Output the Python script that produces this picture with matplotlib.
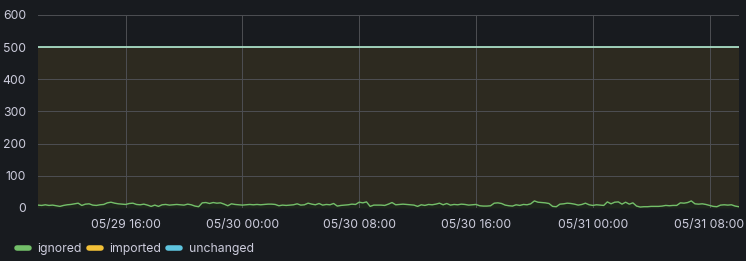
import matplotlib
matplotlib.use("Agg")
import matplotlib.pyplot as plt
import matplotlib.dates as mdates
from matplotlib.lines import Line2D
import pandas as pd
import numpy as np

# ---- data ----
start_time = "2024-05-29 10:00"
step = "15min"
ignored = [9, 8, 10, 8, 9, 7, 5, 8, 10, 11, 13, 15, 8, 12, 13, 9, 8, 10, 11, 16,
           18, 15, 13, 12, 11, 14, 15, 11, 10, 12, 9, 5, 9, 5, 10, 11, 9, 10, 11, 10,
           9, 12, 10, 6, 4, 16, 17, 14, 17, 15, 16, 12, 7, 13, 11, 10, 9, 10, 11, 10,
           11, 10, 11, 12, 12, 11, 7, 9, 8, 9, 10, 13, 9, 10, 15, 12, 10, 14, 9, 11,
           10, 14, 6, 8, 9, 10, 12, 11, 18, 16, 19, 5, 9, 9, 9, 8, 12, 17, 10, 11,
           12, 11, 10, 9, 5, 10, 8, 11, 10, 12, 15, 10, 14, 9, 11, 10, 12, 11, 9, 10,
           11, 7, 6, 6, 7, 15, 16, 14, 9, 7, 6, 10, 8, 11, 10, 13, 22, 18, 17, 16,
           14, 5, 4, 12, 13, 15, 14, 12, 9, 11, 15, 10, 8, 10, 9, 8, 19, 13, 18, 19,
           12, 18, 12, 16, 6, 3, 4, 4, 5, 5, 5, 6, 8, 7, 8, 8, 16, 15, 17, 22,
           13, 12, 13, 11, 8, 5, 4, 9, 10, 9, 10, 6, 4]
imported = []
unchanged = []
threshold = 500
series_names = ["ignored", "imported", "unchanged"]
yticks = [0, 100, 200, 300, 400, 500, 600]
x_start = "2024-05-29 10:00"
x_end = "2024-05-31 10:01"

# ---- style ----
plt.rcParams["font.family"] = ["Inter", "DejaVu Sans"]
BG = "#181b1f"
TXT = "#ccccdc"
GRID = "#4d4f53"
GREEN = "#73bf69"
YELLOW = "#f2c037"
BLUE = "#5ec4de"
TH_FILL = "#2d2a20"
TH_LINE = "#a8dcc4"
FS = 8.8

times = pd.date_range(start_time, periods=len(ignored), freq=step)

fig = plt.figure(figsize=(7.46, 2.61), dpi=100, facecolor=BG)
ax = fig.add_axes([38 / 746, 53 / 261, 701 / 746, 193 / 261])
ax.set_facecolor(BG)

x0 = pd.Timestamp(x_start)
x1 = pd.Timestamp(x_end)
ax.set_xlim(x0, x1)
ax.set_ylim(0, 600)

# threshold area and line
ax.fill_between([x0, x1], 0, threshold, color=TH_FILL, zorder=0.5, lw=0)
ax.axhline(threshold, color=TH_LINE, lw=1.3, zorder=3)

# series
ax.fill_between(times, 0, ignored, color="#1f261d", zorder=1.5, lw=0)
ax.plot(times, ignored, color=GREEN, lw=1.0, zorder=4)

# grid
ax.set_yticks(yticks)
ax.xaxis.set_major_locator(mdates.HourLocator(byhour=[0, 8, 16]))
ax.xaxis.set_major_formatter(mdates.DateFormatter("%m/%d %H:%M"))
ax.grid(True, color=GRID, lw=0.7, zorder=1)
for gl in ax.get_xgridlines() + ax.get_ygridlines():
    gl.set_zorder(1)
ax.tick_params(axis="both", length=0, colors=TXT, labelsize=FS)
ax.tick_params(axis="y", pad=8.5)
ax.tick_params(axis="x", pad=8)
for s in ax.spines.values():
    s.set_visible(False)

handles = [Line2D([0], [0], color=c, lw=4, solid_capstyle="round")
           for c in (GREEN, YELLOW, BLUE)]
fig.legend(handles, series_names, loc="lower left", bbox_to_anchor=(0.008, -0.02),
           ncol=3, frameon=False, labelcolor=TXT, fontsize=FS,
           handlelength=1.0, handletextpad=0.7, columnspacing=0.55)

fig.savefig("out.png", dpi=100, facecolor=BG)
